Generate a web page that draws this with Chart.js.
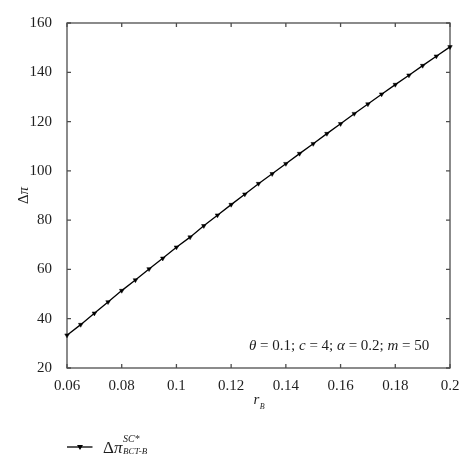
<!DOCTYPE html>
<html><head><meta charset="utf-8">
<script src="https://cdn.jsdelivr.net/npm/chart.js@4/dist/chart.umd.min.js"></script>
<style>html,body{margin:0;padding:0;background:#fff}#w{width:474px;height:474px}</style></head>
<body><div id="w"><canvas id="c"></canvas></div>
<script>
const rB=[0.06,0.065,0.07,0.075,0.08,0.085,0.09,0.095,0.1,0.105,0.11,0.115,0.12,0.125,0.13,0.135,0.14,0.145,0.15,0.155,0.16,0.165,0.17,0.175,0.18,0.185,0.19,0.195,0.2];
const dPi=[33.3,37.6,42.2,46.8,51.4,55.7,60.2,64.5,69.0,73.1,77.7,82.0,86.3,90.5,94.8,98.8,102.9,107.0,111.0,115.1,119.1,123.2,127.1,131.1,135.0,138.8,142.7,146.5,150.3];
const xTicks=[0.06,0.08,0.1,0.12,0.14,0.16,0.18,0.2];
const xTickLabels=["0.06","0.08","0.1","0.12","0.14","0.16","0.18","0.2"];
const yTicks=[20,40,60,80,100,120,140,160];
const yTickLabels=["20","40","60","80","100","120","140","160"];
const legendBase="Δπ", legendSup="SC*", legendSub="BCT-B";
const annotation=[["θ",true],[" = 0.1; ",false],["c",true],[" = 4; ",false],["α",true],[" = 0.2; ",false],["m",true],[" = 50",false]];
const SERIF="'Liberation Serif','DejaVu Serif',serif";
const AX="#4d4d4d", TXT="#1e1e1e";

function drawSegs(ctx,segs,x,y,size){
  segs.forEach(([t,it])=>{
    ctx.font=(it?"italic ":"")+size+"px "+SERIF;
    ctx.fillText(t,x,y); x+=ctx.measureText(t).width;
  });
  return x;
}

const deco={id:'deco',
 beforeDatasetsDraw(chart){
  const {ctx,chartArea:a,scales:{x,y}}=chart;
  ctx.save();
  ctx.strokeStyle=AX; ctx.lineWidth=1.3;
  ctx.strokeRect(a.left,a.top,a.right-a.left,a.bottom-a.top);
  const tl=4;
  ctx.beginPath();
  xTicks.forEach(v=>{const px=x.getPixelForValue(v);ctx.moveTo(px,a.bottom);ctx.lineTo(px,a.bottom-tl);ctx.moveTo(px,a.top);ctx.lineTo(px,a.top+tl);});
  yTicks.forEach(v=>{const py=y.getPixelForValue(v);ctx.moveTo(a.left,py);ctx.lineTo(a.left+tl,py);ctx.moveTo(a.right,py);ctx.lineTo(a.right-tl,py);});
  ctx.stroke();
  ctx.restore();
 },
 afterDraw(chart){
  const {ctx,chartArea:a}=chart;
  ctx.save();
  ctx.fillStyle=TXT; ctx.textBaseline="alphabetic"; ctx.textAlign="left";
  // annotation
  drawSegs(ctx,annotation,249,349.5,15);
  // y title
  ctx.save();
  ctx.translate(28,(a.top+a.bottom)/2);
  ctx.rotate(-Math.PI/2);
  ctx.font="15px "+SERIF; const w1=ctx.measureText("Δ").width;
  ctx.font="italic 15px "+SERIF; const w2=ctx.measureText("π").width;
  drawSegs(ctx,[["Δ",false],["π",true]],-(w1+w2)/2,0,15);
  ctx.restore();
  // x title
  ctx.font="italic 15px "+SERIF;
  ctx.fillText("r",253.5,403.5);
  const rw=ctx.measureText("r").width;
  ctx.font="italic 8px "+SERIF;
  ctx.fillText("B",253.5+rw+0.5,408.5);
  // legend
  ctx.strokeStyle="#000"; ctx.lineWidth=1.3;
  ctx.beginPath(); ctx.moveTo(67,447); ctx.lineTo(92.5,447); ctx.stroke();
  ctx.fillStyle="#000";
  ctx.beginPath(); ctx.moveTo(77,445); ctx.lineTo(83,445); ctx.lineTo(80,450); ctx.closePath(); ctx.fill();
  ctx.fillStyle=TXT;
  ctx.font="17px "+SERIF; ctx.fillText("Δ",103,453);
  let xx=103+ctx.measureText("Δ").width;
  ctx.font="italic 17px "+SERIF; ctx.fillText("π",xx,453);
  xx+=ctx.measureText("π").width+0.5;
  ctx.font="italic 10px "+SERIF; ctx.fillText(legendSup,xx,442);
  ctx.font="italic 9px "+SERIF; ctx.fillText(legendSub,xx,454);
  ctx.restore();
 }};

new Chart(document.getElementById('c'),{
 type:'line',
 data:{datasets:[{data:rB.map((v,i)=>({x:v,y:dPi[i]})),borderColor:'#000',backgroundColor:'#000',borderWidth:1.3,
   pointStyle:'triangle',rotation:180,pointRadius:2.6,pointBorderWidth:0.5,pointBackgroundColor:'#000',pointBorderColor:'#000',clip:false,tension:0}]},
 options:{responsive:true,maintainAspectRatio:false,animation:false,devicePixelRatio:1,
  layout:{padding:{left:0,right:24,top:23,bottom:0}},
  plugins:{legend:{display:false},tooltip:{enabled:false}},
  scales:{
   x:{type:'linear',min:0.06,max:0.2,
    afterBuildTicks:s=>{s.ticks=xTicks.map(v=>({value:v}));},
    afterFit:s=>{s.height=106;},
    grid:{display:false},border:{display:false},
    ticks:{padding:1,color:TXT,font:{family:SERIF,size:15},maxRotation:0,autoSkip:false,callback:(v,i)=>xTickLabels[i]}},
   y:{type:'linear',min:20,max:160,
    afterBuildTicks:s=>{s.ticks=yTicks.map(v=>({value:v}));},
    afterFit:s=>{s.width=67;},
    grid:{display:false},border:{display:false},
    ticks:{padding:7,color:TXT,font:{family:SERIF,size:15},autoSkip:false,callback:(v,i)=>yTickLabels[i]}}
  }},
 plugins:[deco]});
</script></body></html>
